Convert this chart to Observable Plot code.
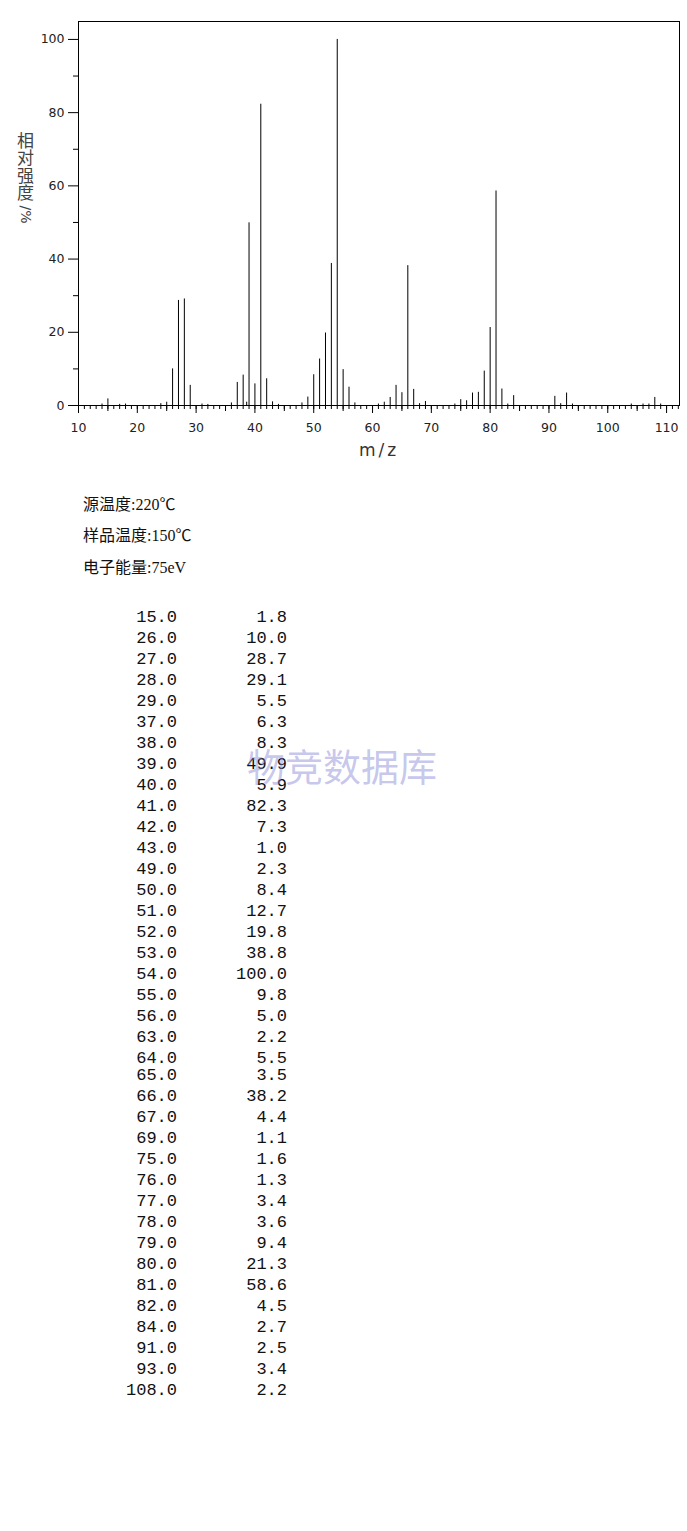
<!DOCTYPE html>
<html>
<head>
<meta charset="utf-8">
<script src="https://cdn.jsdelivr.net/npm/d3@7"></script>
<script src="https://cdn.jsdelivr.net/npm/@observablehq/plot@0.6"></script>
<style>
  html, body { margin: 0; padding: 0; background: #fff; }
  body { width: 687px; height: 1531px; position: relative; overflow: hidden; }
  #chart { position: absolute; left: 0; top: 0; }
  .info { position: absolute; left: 83px; font-family: "Liberation Serif", "Noto Sans CJK SC", serif; font-size: 16px; line-height: 16px; color: #111; white-space: nowrap; }
  #table { position: absolute; left: 0; top: 607px; font-family: "Liberation Mono", "DejaVu Sans Mono", monospace; font-size: 17px; line-height: 21px; color: #111; }
  .row { height: 21px; white-space: pre; }
  .c1 { display: inline-block; width: 177px; text-align: right; }
  .c2 { display: inline-block; width: 110px; text-align: right; }
  #wm { position: absolute; left: 247px; top: 742px; font-family: "Noto Sans CJK SC", sans-serif; font-size: 38px; line-height: 46px; color: rgba(130,130,215,0.45); white-space: nowrap; }
</style>
</head>
<body>
<div id="chart"></div>
<div id="infos"></div>
<div id="table"></div>
<div id="wm">物竞数据库</div>
<script>
// Listed peaks (m/z, relative intensity %)
const mz = [15,26,27,28,29,37,38,39,40,41,42,43,49,50,51,52,53,54,55,56,63,64,65,66,67,69,75,76,77,78,79,80,81,82,84,91,93,108];
const intensity = [1.8,10.0,28.7,29.1,5.5,6.3,8.3,49.9,5.9,82.3,7.3,1.0,2.3,8.4,12.7,19.8,38.8,100.0,9.8,5.0,2.2,5.5,3.5,38.2,4.4,1.1,1.6,1.3,3.4,3.6,9.4,21.3,58.6,4.5,2.7,2.5,3.4,2.2];
// Small unlisted peaks
const minorMz = [14,17,18,24,25,31,32,36,38.6,44,48,57,61,62,68,74,83,92,94,104,106,107,109];
const minorIntensity = [0.4,0.3,0.4,0.5,0.9,0.4,0.3,0.7,0.9,0.3,0.7,0.7,0.4,0.9,0.5,0.4,0.4,0.5,0.4,0.4,0.4,0.4,0.4];
// Axis ticks
const xMajorTicks = [10,20,30,40,50,60,70,80,90,100,110];
const xMidTicks = [15,25,35,45,55,65,75,85,95,105];
const xMinorTicks = d3.range(10, 113, 1);
const yMajorTicks = [0,20,40,60,80,100];
const yMinorTicks = [10,30,50,70,90];
const xLabel = "m/z";
const yLabelChars = "相\n对\n强\n度";
const yLabelUnit = "/%";
const infoLines = ["源温度:220℃", "样品温度:150℃", "电子能量:75eV"];

const peaks = mz.map((m, i) => ({mz: m, v: intensity[i]}));
const minor = minorMz.map((m, i) => ({mz: m, v: minorIntensity[i]}));

const tickFont = {fontSize: 12.5, fontFamily: "DejaVu Sans, sans-serif"};

const plot = Plot.plot({
  width: 687,
  height: 470,
  marginLeft: 78,
  marginRight: 8,
  marginTop: 21,
  marginBottom: 65,
  style: {fontFamily: "DejaVu Sans, sans-serif", fontSize: "12.5px", color: "#222", background: "white"},
  x: {domain: [10, 112.2], axis: null},
  y: {domain: [0, 104.9], axis: null},
  marks: [
    Plot.axisX({ticks: xMinorTicks, tickSize: 4, tickFormat: () => "", label: null, stroke: "black"}),
    Plot.axisX({ticks: xMidTicks, tickSize: 6, tickFormat: () => "", label: null, stroke: "black"}),
    Plot.axisX({ticks: xMajorTicks, tickSize: 8, tickPadding: 9.5, tickFormat: d => String(d), label: null, stroke: "black", fill: "#222", ...tickFont}),
    Plot.axisY({ticks: yMinorTicks, tickSize: 5, tickFormat: () => "", label: null, stroke: "black"}),
    Plot.axisY({ticks: yMajorTicks, tickSize: 10, tickPadding: 4, tickFormat: d => String(d), label: null, stroke: "black", fill: "#222", ...tickFont}),
    Plot.ruleX(minor, {x: "mz", y1: 0, y2: "v", stroke: "black", strokeWidth: 1}),
    Plot.ruleX(peaks, {x: "mz", y1: 0, y2: "v", stroke: "black", strokeWidth: 1}),
    Plot.frame({stroke: "black", strokeWidth: 1}),
    Plot.text([xLabel], {frameAnchor: "bottom", dy: 50, fontSize: 17, fill: "#333", fontFamily: "DejaVu Sans, sans-serif", lineAnchor: "bottom"}),
    Plot.text([yLabelChars], {frameAnchor: "left", textAnchor: "middle", lineAnchor: "middle", lineHeight: 1.03, dx: -53, dy: -46, fontSize: 17, fill: "#444", fontFamily: "Noto Sans CJK SC, sans-serif"}),
    Plot.text([yLabelUnit], {frameAnchor: "left", textAnchor: "middle", lineAnchor: "middle", rotate: 90, dx: -53, dy: 1, fontSize: 14, fill: "#444", fontFamily: "DejaVu Sans, sans-serif"})
  ]
});
document.getElementById("chart").appendChild(plot);

d3.select(plot).selectAll("text").filter(function() { return this.textContent === xLabel; })
  .style("letter-spacing", "3px");

// Info lines
const infoTops = [497, 528, 560];
const infos = document.getElementById("infos");
infoLines.forEach((t, i) => {
  const d = document.createElement("div");
  d.className = "info";
  d.style.top = infoTops[i] + "px";
  d.textContent = t;
  infos.appendChild(d);
});

// Peak table
const table = document.getElementById("table");
mz.forEach((m, i) => {
  const r = document.createElement("div");
  r.className = "row";
  if (m === 65) r.style.marginTop = "-4px";
  const a = document.createElement("span"); a.className = "c1"; a.textContent = m.toFixed(1);
  const b = document.createElement("span"); b.className = "c2"; b.textContent = intensity[i].toFixed(1);
  r.appendChild(a); r.appendChild(b);
  table.appendChild(r);
});
</script>
</body>
</html>
